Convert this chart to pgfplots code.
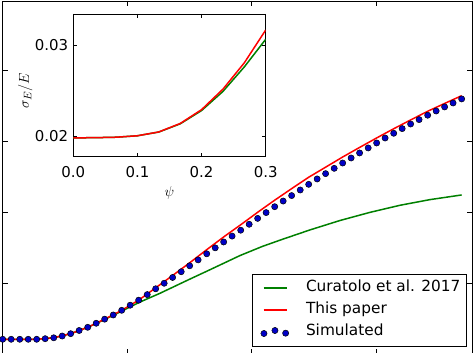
\documentclass[border=0pt]{standalone}
\usepackage{fontspec}
\setmainfont{DejaVu Sans}
\usepackage{pgfplots}
\pgfplotsset{compat=1.18}
\definecolor{mplgreen}{rgb}{0,0.5,0}
\definecolor{mplred}{rgb}{1,0,0}
\definecolor{dotblue}{rgb}{0,0,0.78}
\begin{document}
\begin{tikzpicture}
\useasboundingbox (0,0) rectangle (474bp,353bp);
\begin{axis}[
  at={(2.7bp,-1bp)}, anchor=south west, scale only axis,
  width=469.3bp, height=353bp,
  xmin=0, xmax=3.77, ymin=0, ymax=4.985,
  xtick={1,2,3}, ytick={1,2,3,4},
  xticklabels={,,}, yticklabels={,,,},
  tick align=inside, major tick length=5bp,
  axis line style={line width=0.8bp},
  every tick/.style={black, line width=0.8bp},
  legend cell align=left,
  legend style={at={(0.9887,0.0227)}, anchor=south east,
    inner xsep=4bp, inner ysep=4bp,
    row sep=2bp, column sep=15bp,
    font=\fontsize{15.4}{18}\selectfont,
    nodes={inner xsep=2bp, inner ysep=2bp, text height=12bp, text depth=4bp}},
  legend image code/.code={\path[draw=none,fill=none] (-7.3bp,-6bp) rectangle (23bp,6bp); \draw[#1] (0bp,0bp) -- (23bp,0bp);},
]
\addplot[only marks, mark=*, mark size=3.1bp, mark options={fill=dotblue, draw=black, line width=0.5bp}, forget plot] coordinates {
(0.000,0.208)(0.068,0.208)(0.137,0.208)(0.205,0.208)(0.273,0.208)(0.341,0.216)(0.410,0.229)(0.478,0.254)(0.546,0.287)(0.614,0.332)(0.683,0.377)(0.751,0.434)(0.819,0.492)(0.888,0.551)(0.956,0.617)(1.024,0.689)(1.092,0.760)(1.161,0.839)(1.229,0.921)(1.297,0.999)(1.365,1.081)(1.434,1.162)(1.502,1.246)(1.570,1.329)(1.639,1.415)(1.707,1.499)(1.775,1.582)(1.843,1.665)(1.912,1.748)(1.980,1.832)(2.048,1.915)(2.116,1.997)(2.185,2.080)(2.253,2.160)(2.321,2.237)(2.390,2.316)(2.458,2.396)(2.526,2.472)(2.594,2.547)(2.663,2.622)(2.731,2.697)(2.799,2.768)(2.867,2.839)(2.936,2.910)(3.004,2.980)(3.072,3.050)(3.141,3.117)(3.209,3.183)(3.277,3.248)(3.345,3.310)(3.414,3.372)(3.482,3.432)(3.550,3.489)(3.618,3.545)(3.687,3.602)
};
\addplot[mplgreen, line width=1.5bp, forget plot] coordinates {
(0.000,0.208)(0.273,0.208)(0.410,0.229)(0.546,0.287)(0.683,0.377)(0.782,0.456)(0.942,0.593)(1.103,0.734)(1.263,0.857)(1.504,1.058)(1.665,1.190)(1.906,1.390)(2.087,1.520)(2.251,1.622)(2.468,1.752)(2.709,1.885)(2.950,2.000)(3.191,2.100)(3.432,2.180)(3.687,2.246)
};
\addplot[mplred, line width=1.5bp, forget plot] coordinates {
(0.000,0.208)(0.137,0.208)(0.273,0.208)(0.410,0.229)(0.546,0.287)(0.683,0.377)(0.819,0.492)(0.956,0.617)(1.092,0.760)(1.229,0.935)(1.365,1.109)(1.502,1.288)(1.639,1.473)(1.775,1.653)(1.912,1.825)(2.048,2.001)(2.185,2.172)(2.321,2.335)(2.458,2.496)(2.594,2.638)(2.731,2.782)(2.867,2.917)(3.004,3.051)(3.141,3.181)(3.277,3.305)(3.414,3.428)(3.550,3.538)(3.687,3.648)
};
\addlegendimage{mplgreen, line width=1.5bp}
\addlegendentry{Curatolo et al. 2017}
\addlegendimage{mplred, line width=1.5bp}
\addlegendentry{This paper}
\addlegendimage{legend image code/.code={\path[draw=none,fill=none] (-7.3bp,-6bp) rectangle (23bp,6bp); \filldraw[fill=dotblue, draw=black, line width=0.5bp] (0.3bp,-1.7bp) circle (3.1bp) (11.3bp,1.3bp) circle (3.1bp) (22bp,-1.4bp) circle (3.1bp);}}
\addlegendentry{Simulated}
\end{axis}
\begin{axis}[
  at={(73.3bp,196.3bp)}, anchor=south west, scale only axis,
  width=192.4bp, height=142.7bp,
  xmin=0, xmax=0.3, ymin=0.01773, ymax=0.03341,
  xtick={0,0.1,0.2,0.3}, xticklabels={0.0,0.1,0.2,0.3},
  ytick={0.02,0.03}, yticklabels={0.02,0.03},
  scaled y ticks=false, scaled x ticks=false,
  tick label style={font=\fontsize{15}{18}\selectfont},
  xticklabel style={inner sep=0pt}, xticklabel shift=9.5bp,
  yticklabel style={inner sep=0pt}, yticklabel shift=5bp,
  tick align=inside, major tick length=4bp,
  axis line style={line width=0.8bp},
  every tick/.style={black, line width=0.8bp},
  axis background/.style={fill=white},
  xlabel={$\psi$}, ylabel={$\sigma_E/E$},
  label style={font=\fontsize{15}{18}\selectfont},
  xlabel style={at={(axis description cs:0.5,-0.254)}, anchor=center},
  ylabel style={at={(axis description cs:-0.25,0.46)}, anchor=center},
]
\addplot[mplgreen, line width=1.5bp] coordinates {
(0,0.01980)(0.0333,0.01982)(0.0667,0.01987)(0.1,0.02003)(0.1333,0.02044)(0.1667,0.02134)(0.2,0.02280)(0.2333,0.02490)(0.2667,0.02760)(0.3,0.03063)
};
\addplot[mplred, line width=1.5bp] coordinates {
(0,0.01980)(0.0333,0.01982)(0.0667,0.01987)(0.1,0.02003)(0.1333,0.02045)(0.1667,0.02138)(0.2,0.02290)(0.2333,0.02515)(0.2667,0.02805)(0.3,0.03165)
};
\end{axis}
\end{tikzpicture}
\end{document}
